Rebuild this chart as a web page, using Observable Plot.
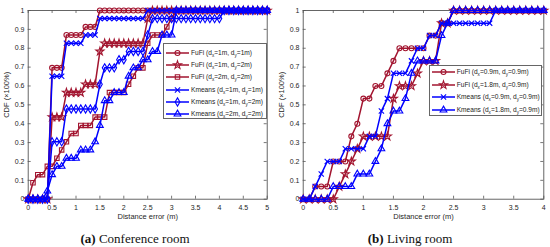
<!DOCTYPE html>
<html>
<head>
<meta charset="utf-8">
<script src="https://cdn.jsdelivr.net/npm/d3@7"></script>
<script src="https://cdn.jsdelivr.net/npm/@observablehq/plot@0.6"></script>
<style>
  body { margin: 0; background: #fff; }
  #wrap { position: relative; width: 550px; height: 247px; overflow: hidden; font-family: "Liberation Sans", Arial, sans-serif; }
  .panel { position: absolute; top: 0; }
  .legend { position: absolute; background: #fff; border: 1px solid #666; box-sizing: border-box; }
  .entry { position: absolute; height: 12px; line-height: 12px; font-size: 6.6px; color: #222; white-space: nowrap; font-family: "Liberation Sans", Arial, sans-serif; }
  .entry sub { font-size: 4.6px; vertical-align: -2px; line-height: 0; }
  .swatch { position: absolute; }
  .caption { position: absolute; font-family: "Liberation Serif", "Times New Roman", serif; font-size: 13px; color: #111; transform: translateX(-50%); white-space: nowrap; line-height: 15px; }
</style>
</head>
<body>
<div id="wrap"></div>
<script>
// ---------------- data: (a) Conference room ----------------
const distConf = [0,0.1,0.2,0.3,0.4,0.5,0.6,0.7,0.8,0.9,1.0,1.1,1.2,1.3,1.4,1.5,1.6,1.7,1.8,1.9,2.0,2.1,2.2,2.3,2.4,2.5,2.6,2.7,2.8,2.9,3.0,3.1,3.2,3.3,3.4,3.5,3.6,3.7,3.8,3.9,4.0,4.1,4.2,4.3,4.4,4.5,4.6,4.7,4.8,4.9,5.0];
const fufi11 = [0,0,0,0,0,0.696,0.696,0.696,0.87,0.87,0.87,0.87,0.913,0.913,0.913,1,1,1,1,1,1,1,1,1,1,1,1,1,1,1,1,1,1,1,1,1,1,1,1,1,1,1,1,1,1,1,1,1,1,1,1];
const fufi12 = [0,0,0,0,0,0.435,0.435,0.435,0.565,0.565,0.565,0.565,0.609,0.609,0.609,0.783,0.826,0.826,0.826,0.826,0.826,0.826,0.826,0.826,0.826,0.957,1,1,1,1,1,1,1,1,1,1,1,1,1,1,1,1,1,1,1,1,1,1,1,1,1];
const fufi22 = [0,0.087,0.13,0.13,0.174,0.174,0.217,0.261,0.304,0.348,0.348,0.391,0.391,0.391,0.435,0.435,0.435,0.565,0.565,0.565,0.565,0.609,0.652,0.696,0.696,0.826,0.87,0.87,0.87,0.913,0.957,1,1,1,1,1,1,1,1,1,1,1,1,1,1,1,1,1,1,1,1];
const km11 = [0,0,0,0,0,0.652,0.652,0.652,0.826,0.826,0.826,0.826,0.87,0.87,0.87,0.957,0.957,0.957,0.957,0.957,0.957,0.957,0.957,0.957,0.957,1,1,1,1,1,1,1,1,1,1,1,1,1,1,1,1,1,1,1,1,1,1,1,1,1,1];
const km12 = [0,0,0,0,0,0.304,0.304,0.304,0.478,0.478,0.478,0.478,0.478,0.478,0.478,0.609,0.696,0.696,0.696,0.739,0.739,0.783,0.783,0.783,0.783,0.87,0.957,0.957,0.957,0.957,0.957,0.957,0.957,0.957,0.957,0.957,0.957,0.957,0.957,0.957,0.957,1,1,1,1,1,1,1,1,1,1];
const km22 = [0,0,0,0,0.043,0.13,0.174,0.174,0.217,0.217,0.217,0.261,0.261,0.261,0.304,0.391,0.522,0.522,0.565,0.565,0.565,0.652,0.696,0.696,0.739,0.739,0.783,0.783,0.87,0.87,0.87,1,1,1,1,1,1,1,1,1,1,1,1,1,1,1,1,1,1,1,1];
const ticksConf = [0,0.5,1,1.5,2,2.5,3,3.5,4,4.5,5];

// ---------------- data: (b) Living room ----------------
const distLiving = [0,0.1,0.2,0.3,0.4,0.5,0.6,0.7,0.8,0.9,1.0,1.1,1.2,1.3,1.4,1.5,1.6,1.7,1.8,1.9,2.0,2.1,2.2,2.3,2.4,2.5,2.6,2.7,2.8,2.9,3.0,3.1,3.2,3.3,3.4,3.5,3.6,3.7,3.8,3.9,4.0];
const fufi0909 = [0,0,0.067,0.067,0.067,0.2,0.2,0.2,0.333,0.4,0.533,0.533,0.6,0.6,0.667,0.733,0.8,0.8,0.8,0.8,0.8,0.867,0.867,0.933,0.933,1,1,1,1,1,1,1,1,1,1,1,1,1,1,1,1];
const fufi1809 = [0,0,0,0,0,0,0.067,0.133,0.2,0.267,0.333,0.333,0.333,0.333,0.333,0.533,0.6,0.6,0.6,0.667,0.733,0.733,0.733,0.933,0.933,1,1,1,1,1,1,1,1,1,1,1,1,1,1,1,1];
const km0909 = [0,0,0.067,0.133,0.2,0.2,0.2,0.267,0.267,0.267,0.267,0.333,0.333,0.467,0.533,0.667,0.667,0.667,0.733,0.8,0.8,0.867,0.867,0.933,0.933,0.933,0.933,0.933,0.933,0.933,0.933,0.933,1,1,1,1,1,1,1,1,1];
const km1809 = [0,0,0,0,0,0.067,0.067,0.067,0.067,0.133,0.133,0.133,0.2,0.267,0.4,0.467,0.467,0.533,0.667,0.733,0.733,0.733,0.733,0.867,0.933,1,1,1,1,1,1,1,1,1,1,1,1,1,1,1,1];
const ticksLiving = [0,0.5,1,1.5,2,2.5,3,3.5,4];

const yTicks = [0,0.1,0.2,0.3,0.4,0.5,0.6,0.7,0.8,0.9,1];

const RED = "#A2142F", BLUE = "#0000FF", FRAME = "#555";

const seriesConf = [
  {values: fufi11, color: RED, symbol: "circle", label: "FuFi (d<sub>x</sub>=1m, d<sub>y</sub>=1m)"},
  {values: fufi12, color: RED, symbol: "star", label: "FuFi (d<sub>x</sub>=1m, d<sub>y</sub>=2m)"},
  {values: fufi22, color: RED, symbol: "square", label: "FuFi (d<sub>x</sub>=2m, d<sub>y</sub>=2m)"},
  {values: km11, color: BLUE, symbol: "times", label: "Kmeans (d<sub>x</sub>=1m, d<sub>y</sub>=1m)"},
  {values: km12, color: BLUE, symbol: "diamond", label: "Kmeans (d<sub>x</sub>=1m, d<sub>y</sub>=2m)"},
  {values: km22, color: BLUE, symbol: "triangle", label: "Kmeans (d<sub>x</sub>=2m, d<sub>y</sub>=2m)"}
];
const seriesLiving = [
  {values: fufi0909, color: RED, symbol: "circle", label: "FuFi (d<sub>x</sub>=0.9m, d<sub>y</sub>=0.9m)"},
  {values: fufi1809, color: RED, symbol: "star", label: "FuFi (d<sub>x</sub>=1.8m, d<sub>y</sub>=0.9m)"},
  {values: km0909, color: BLUE, symbol: "times", label: "Kmeans (d<sub>x</sub>=0.9m, d<sub>y</sub>=0.9m)"},
  {values: km1809, color: BLUE, symbol: "triangle", label: "Kmeans (d<sub>x</sub>=1.8m, d<sub>y</sub>=0.9m)"}
];

const R = 2.5;

function makePanel(dist, series, xTicks, xmax, marginRight) {
  const W = 275, H = 225, mt = 10, mb = H - 198.7, ml = 27.7, mr = marginRight;
  const plotH = H - mt - mb, plotW = W - ml - mr, tk = 3;
  const marks = [
    Plot.frame({stroke: FRAME, strokeWidth: 0.9}),
    Plot.tickX(xTicks, {x: d => d, insetTop: plotH - tk, stroke: FRAME, strokeWidth: 0.8}),
    Plot.tickX(xTicks, {x: d => d, insetBottom: plotH - tk, stroke: FRAME, strokeWidth: 0.8}),
    Plot.tickY(yTicks, {y: d => d, insetRight: plotW - tk, stroke: FRAME, strokeWidth: 0.8}),
    Plot.tickY(yTicks, {y: d => d, insetLeft: plotW - tk, stroke: FRAME, strokeWidth: 0.8}),
    Plot.axisX({ticks: xTicks, tickSize: 0, tickPadding: 5.8, tickFormat: d => String(d), label: null}),
    Plot.axisY({ticks: yTicks, tickSize: 0, tickPadding: 3.7, tickFormat: d => String(d), label: null}),
    Plot.text(["Distance error (m)"], {text: d => d, frameAnchor: "bottom", dy: 19.5, fontSize: 7.5}),
    Plot.text(["CDF (\u00d7100%)"], {text: d => d, frameAnchor: "left", rotate: -90, dx: -22, dy: 13, fontSize: 7.5})
  ];
  for (const s of series) {
    marks.push(Plot.line(s.values, {x: (d, i) => dist[i], y: d => d, stroke: s.color, strokeWidth: 1.5}));
    marks.push(Plot.dot(s.values, {x: (d, i) => dist[i], y: d => d, symbol: s.symbol, r: R, stroke: s.color, fill: "none", strokeWidth: 1.1}));
  }
  return Plot.plot({
    width: W, height: H, marginTop: mt, marginBottom: mb, marginLeft: ml, marginRight: mr,
    x: {domain: [0, xmax], label: null},
    y: {domain: [0, 1], label: null},
    style: {fontFamily: "'Liberation Sans', Arial, sans-serif", fontSize: "7px", color: "#262626", background: "transparent", overflow: "visible"},
    marks
  });
}

const SYM = {circle: d3.symbolCircle, star: d3.symbolStar, square: d3.symbolSquare, times: d3.symbolTimes, diamond: d3.symbolDiamond, triangle: d3.symbolTriangle};

function makeLegend(parent, series, box, lineX0, lineX1, textX, y0, dy) {
  const lg = document.createElement("div");
  lg.className = "legend";
  Object.assign(lg.style, {left: box.x + "px", top: box.y + "px", width: box.w + "px", height: box.h + "px"});
  parent.appendChild(lg);
  series.forEach((s, i) => {
    const cy = y0 + i * dy - box.y;
    const sw = d3.create("svg").attr("class", "swatch").attr("width", lineX1 - lineX0 + 8).attr("height", 12)
      .style("left", (lineX0 - box.x - 4) + "px").style("top", (cy - 6) + "px").style("overflow", "visible");
    sw.append("line").attr("x1", 4).attr("x2", lineX1 - lineX0 + 4).attr("y1", 6).attr("y2", 6)
      .attr("stroke", s.color).attr("stroke-width", 1.5);
    sw.append("path").attr("d", d3.symbol(SYM[s.symbol], Math.PI * R * R)())
      .attr("transform", `translate(${(lineX1 - lineX0) / 2 + 4},6)`)
      .attr("fill", "none").attr("stroke", s.color).attr("stroke-width", 1.1);
    lg.appendChild(sw.node());
    const t = document.createElement("div");
    t.className = "entry";
    t.style.left = (textX - box.x) + "px";
    t.style.top = (cy - 6) + "px";
    t.innerHTML = s.label;
    lg.appendChild(t);
  });
}

const wrap = document.getElementById("wrap");

const p1 = document.createElement("div"); p1.className = "panel"; p1.style.left = "0px";
p1.appendChild(makePanel(distConf, seriesConf, ticksConf, 5, 8.3));
wrap.appendChild(p1);

const p2 = document.createElement("div"); p2.className = "panel"; p2.style.left = "275px";
p2.appendChild(makePanel(distLiving, seriesLiving, ticksLiving, 4, 6.7));
wrap.appendChild(p2);

makeLegend(wrap, seriesConf, {x: 163, y: 42.5, w: 104, h: 76}, 165, 188, 190, 51.6, 12.3);
makeLegend(wrap, seriesLiving, {x: 428.5, y: 65, w: 113.5, h: 51}, 430.5, 453.5, 455.7, 71, 12.5);

function caption(x, html) {
  const c = document.createElement("div");
  c.className = "caption";
  c.style.left = x + "px";
  c.style.top = "231px";
  c.innerHTML = html;
  wrap.appendChild(c);
}
caption(135, "<b>(a)</b> Conference room");
caption(410, "<b>(b)</b> Living room");
</script>
</body>
</html>
